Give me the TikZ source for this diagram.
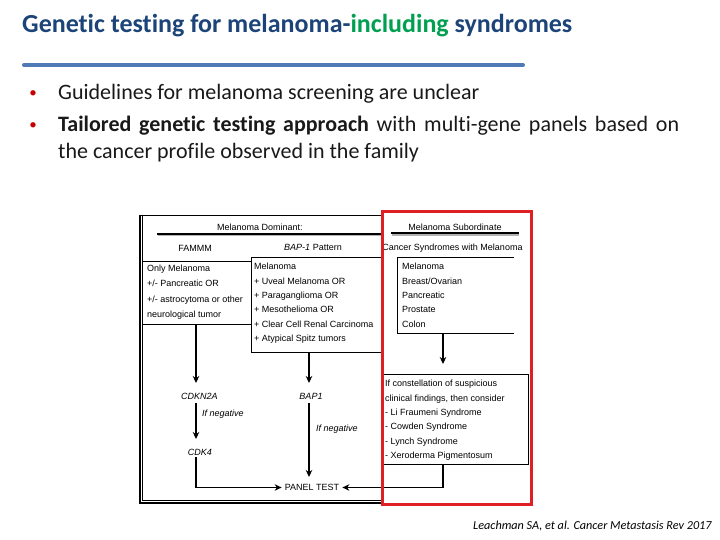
\documentclass[tikz,border=0pt]{standalone}
\usepackage{fontspec}
\setmainfont{Carlito}[Ligatures=NoCommon]
\newfontfamily\arialf{Liberation Sans}
\usetikzlibrary{arrows.meta}
\definecolor{titleblue}{RGB}{28,68,120}
\definecolor{incgreen}{RGB}{0,160,80}
\definecolor{rulebl}{RGB}{79,122,181}
\definecolor{boxred}{RGB}{222,32,36}
\definecolor{bulred}{RGB}{200,0,0}
\definecolor{bodytxt}{RGB}{25,25,25}
\begin{document}
\begin{tikzpicture}[x=1pt,y=-1pt,
  fc/.style={font=\arialf\fontsize{9}{14.33}\selectfont, inner sep=0pt},
  fci/.style={font=\arialf\itshape\fontsize{9}{14.33}\selectfont, inner sep=0pt},
  blk/.style={fc, align=left, anchor=north west},
  body/.style={anchor=base west, inner sep=0pt, text=bodytxt, font=\fontsize{22}{27.5}\selectfont},
  bul/.style={anchor=base, inner sep=0pt, text=bulred, font=\fontsize{15}{18}\selectfont},
  ln/.style={line width=0.8pt},
  thk/.style={line width=2.2pt},
  arr/.style={line width=1.4pt, -{Stealth[length=7pt,width=6.5pt]}},
]
\useasboundingbox (0,0) rectangle (720,540);

% title and rule
\node[anchor=base west, inner sep=0pt, font=\bfseries\fontsize{26}{30}\selectfont, text=titleblue] (title) at (22,33)
  {Genetic testing for melanoma-\textcolor{incgreen}{including} syndromes};
\draw[rulebl, line width=4pt, line cap=round] (24,65) -- (523,65);

% bullets
\node[bul] (b1) at (33,97.5) {•};
\node[body] (l1) at (58,100) {Guidelines for melanoma screening are unclear};
\node[bul] (b2) at (33,129.5) {•};
\node[body] (l2) at (58,132) {\makebox[621pt][s]{\textbf{Tailored genetic testing approach} with multi-gene panels based on}};
\node[body] (l3) at (58,159) {the cancer profile observed in the family};

% frame
\draw[line width=1.2pt] (140,215) -- (140,503) -- (382,503);
\draw[line width=0.7pt] (142.5,215) -- (142.5,500.5) -- (382,500.5);
\draw[ln] (140,215) -- (382,215);

% melanoma dominant header
\node[fc, anchor=base] (md) at (260,230.5) {Melanoma Dominant:};
\draw[black!30, thk] (158,235.3) -- (382,235.3);
\draw[thk] (157,233.8) -- (382,233.8);
\node[fc, anchor=base] (fammm) at (195,251.5) {FAMMM};
\node[fc, anchor=base] (bappat) at (313,250) {\textit{BAP-1} Pattern};

% left box
\draw[ln] (142,261) -- (251,261);
\draw[ln] (142,324) -- (251,324);
\node[blk, font=\arialf\fontsize{9}{15.2}\selectfont] (lbox) at (147,265) {Only Melanoma\\+/- Pancreatic OR\\+/- astrocytoma or other\\neurological tumor};

% BAP box
\draw[ln] (382,257) -- (251,257) -- (251,352) -- (382,352);
\node[blk] (bbox) at (254,263) {Melanoma\\+ Uveal Melanoma OR\\+ Paraganglioma OR\\+ Mesothelioma OR\\+ Clear Cell Renal Carcinoma\\+ Atypical Spitz tumors};

% subordinate
\node[fc, anchor=base] (msub) at (455,230.5) {Melanoma Subordinate};
\draw[black!30, thk] (392,234.8) -- (519,234.8);
\draw[thk] (391,233.3) -- (519,233.3);
\node[fc, anchor=base] (csm) at (452.5,250) {Cancer Syndromes with Melanoma};
\draw[ln] (514,257) -- (397,257) -- (397,333) -- (514,333);
\node[blk] (rbox) at (402,263) {Melanoma\\Breast/Ovarian\\Pancreatic\\Prostate\\Colon};

% lower box
\draw[ln] (382,374) rectangle (528,464);
\node[blk] (lowbox) at (385,380) {If constellation of suspicious\\clinical findings, then consider\\- Li Fraumeni Syndrome\\- Cowden Syndrome\\- Lynch Syndrome\\- Xeroderma Pigmentosum};

% gene labels
\node[fci, anchor=base] (cdkn) at (199.5,399) {CDKN2A};
\node[fci, anchor=base west] (neg1) at (202,416) {If negative};
\node[fci, anchor=base] (cdk4) at (200,455) {CDK4};
\node[fci, anchor=base] (bap1) at (311,399) {BAP1};
\node[fci, anchor=base west] (neg2) at (316,431) {If negative};
\node[fc, anchor=center, inner xsep=3pt] (panel) at (312,487.5) {PANEL TEST};

% connector end points
\coordinate (lbB) at (196,324);
\coordinate (cdknT) at (196,383);
\coordinate (cdknB) at (196,403);
\coordinate (cdk4T) at (196,439);
\coordinate (cdk4B) at (196,457);
\coordinate (bbB) at (309,352);
\coordinate (bapT) at (309,383);
\coordinate (bapB) at (309,403);
\coordinate (panT) at (309,477);
\coordinate (rbB) at (443,333);
\coordinate (lowT) at (443,364);
\coordinate (lowB) at (443,464);

\draw[arr] (lbB) -- (cdknT);
\draw[arr] (cdknB) -- (cdk4T);
\draw[arr] (cdk4B) |- (panel.west);
\draw[arr] (bbB) -- (bapT);
\draw[arr] (bapB) -- (panT);
\draw[arr] (rbB) -- (lowT);
\draw[arr] (lowB) |- (panel.east);

% red highlight
\draw[boxred, line width=3pt] (382,212) rectangle (531,504);

% citation
\node[anchor=base west, inner sep=0pt, font=\itshape\fontsize{12.2}{14}\selectfont] (cite) at (473,529) {Leachman SA, et al. Cancer Metastasis Rev 2017};
\end{tikzpicture}
\end{document}
